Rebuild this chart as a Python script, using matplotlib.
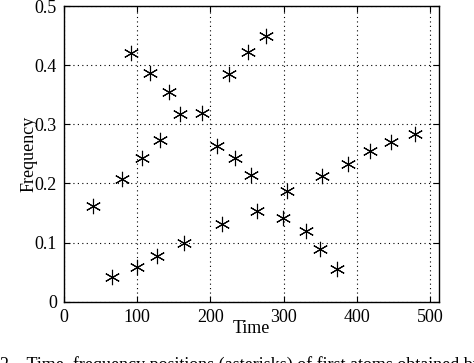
import matplotlib.pyplot as plt

plt.rcParams['font.family'] = ['Liberation Serif', 'DejaVu Serif']

# atom positions
time = [40, 66, 79, 92, 100, 106, 118, 127, 131, 143, 158, 164, 189, 209, 216,
        226, 233, 251, 255, 264, 276, 299, 304, 331, 349, 352, 373, 388, 418, 446, 480]
freq = [0.162, 0.041, 0.207, 0.421, 0.058, 0.243, 0.387, 0.077, 0.274, 0.355,
        0.317, 0.100, 0.319, 0.263, 0.132, 0.386, 0.243, 0.423, 0.215, 0.153,
        0.449, 0.141, 0.188, 0.119, 0.089, 0.212, 0.056, 0.233, 0.255, 0.270, 0.284]

xticks = [0, 100, 200, 300, 400, 500]
yticks = [0, 0.1, 0.2, 0.3, 0.4, 0.5]

fig = plt.figure(figsize=(4.74, 3.63), dpi=100)
ax = fig.add_axes([0.135, 0.169, 0.791, 0.814])

ax.plot(time, freq, linestyle='none', marker=(6, 2, 0), markersize=11,
        color='black', markeredgewidth=0.8)

ax.set_xlim(0, 512)
ax.set_ylim(0, 0.5)
ax.set_xticks(xticks)
ax.set_yticks(yticks)
ax.set_yticklabels(['0', '0.1', '0.2', '0.3', '0.4', '0.5'])
ax.grid(True, linestyle=(0, (1, 3)), color='black', linewidth=0.8)
ax.tick_params(direction='in', top=True, right=True, labelsize=13, length=4, pad=5)
for s in ax.spines.values():
    s.set_linewidth(1.0)

ax.set_xlabel('Time', fontsize=13, labelpad=-4)
ax.set_ylabel('Frequency', fontsize=13, labelpad=-2)

# figure caption, cut off by the bottom edge as in the source
fig.text(0.0, -0.02, '2.   Time–frequency positions (asterisks) of first atoms obtained by',
         fontsize=13, ha='left', va='baseline')

fig.savefig('out.png', dpi=100)
